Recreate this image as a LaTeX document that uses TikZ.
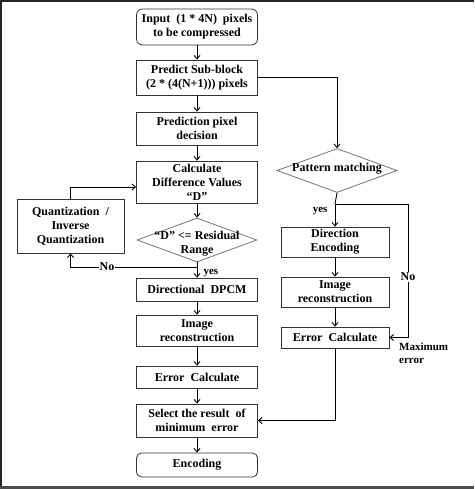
\documentclass[tikz,border=0pt]{standalone}
\usepackage{fontspec}
\setmainfont{Liberation Serif}
\usetikzlibrary{arrows.meta,shapes.geometric}
\begin{document}
\begin{tikzpicture}[x=1pt,y=-1pt,
  lbl/.style={font=\bfseries\fontsize{12}{14}\selectfont, align=center},
  box/.style={lbl, draw=black!80, line width=0.8pt, fill=white, inner sep=1pt},
  lbox/.style={box, minimum width=121pt},
  rbox/.style={box, minimum width=108pt},
  dia/.style={draw=black!55, shape=diamond, inner sep=0pt, line width=0.8pt, minimum width=120pt, minimum height=44pt},
  arr/.style={draw=black, line width=0.9pt, -{Straight Barb[length=3.5pt,width=6pt]}},
  ln/.style={draw=black, line width=0.9pt},
  small/.style={font=\bfseries\fontsize{11}{13}\selectfont, align=left}]
\useasboundingbox (0,0) rectangle (474,489);
% frame
\fill[black!85] (0,0) rectangle (474,2);
\fill[black!85] (0,0) rectangle (2,489);
\fill[black!70] (0,486) rectangle (474,489);
% left column
\node[lbox, minimum height=36pt, rounded corners=6pt] (in) at (197,27) {Input\ \ (1 * 4N)\ \ pixels\\to be compressed};
\node[lbox, minimum height=35pt] (pred) at (197,77.5) {Predict Sub-block\\(2 * (4(N+1))) pixels};
\node[lbox, minimum height=33pt] (dec) at (197,128.5) {Prediction pixel\\decision};
\node[lbox, minimum height=42pt] (calc) at (197,182) {Calculate\\Difference Values\\“D”};
\node[dia] (d1) at (197,240) {};
\node[lbl] (d1t) at (197,244) {“D” <= Residual\\Range};
\node[lbox, minimum height=23pt] (dpcm) at (197,289.5) {Directional\ \ DPCM};
\node[lbox, minimum height=31pt] (ir1) at (197,330.5) {Image\\reconstruction};
\node[lbox, minimum height=22pt] (ec1) at (197,377) {Error\ \ Calculate};
\node[lbox, minimum height=33pt] (sel) at (197,420.5) {Select the result\ \ of\\minimum\ \ error};
\node[lbox, minimum height=24pt, rounded corners=5pt] (enc) at (197,465) {Encoding};
\node[box, minimum width=107pt, minimum height=54pt] (q) at (70.5,226) {Quantization\ \ /\\Inverse\\Quantization};
% right column
\node[dia] (pm) at (337,170.5) {};
\node[lbl] (pmt) at (337,169) {Pattern matching};
\node[rbox, minimum height=30pt] (de) at (335,242) {Direction\\Encoding};
\node[rbox, minimum height=30pt] (ir2) at (335,292) {Image\\reconstruction};
\node[rbox, minimum height=21pt] (ec2) at (335,337.5) {Error\ \ Calculate};
% junctions
\coordinate (j1) at (197,267);
\coordinate (j2) at (335,204);
\coordinate (c1) at (408,204);
% left connectors
\draw[arr] (in) -- (pred);
\draw[arr] (pred) -- (dec);
\draw[arr] (dec) -- (calc);
\draw[arr] (calc) -- (d1);
\draw[ln] (d1.south) -- (j1);
\draw[arr] (j1) -- (dpcm);
\draw[arr] (j1) -| (q.south);
\draw[arr] (q.north) |- ([yshift=-5pt]calc.west);
\draw[arr] (dpcm) -- (ir1);
\draw[arr] (ir1) -- (ec1);
\draw[arr] (ec1) -- (sel);
\draw[arr] (sel) -- (enc);
% right connectors
\draw[arr] (pred.east) -| (pm.north);
\draw[ln] (pm.south) -- (j2);
\draw[arr] (j2) -- (de);
\draw[arr] (de) -- (ir2);
\draw[arr] (ir2) -- (ec2);
\draw[arr] (j2) -- (c1) |- (ec2.east);
\draw[arr] (ec2.south) |- (sel.east);
% labels
\node[lbl, fill=white, inner sep=1pt] (no1) at (107,267) {No};
\node[small, anchor=west] (yes1) at (200,273) {yes};
\node[small, anchor=east] (yes2) at (331,211) {yes};
\node[lbl, fill=white, inner sep=1.5pt] (no2) at (408,277) {No};
\node[small, anchor=north west, inner sep=0pt] (maxe) at (399,343) {Maximum\\error};
\end{tikzpicture}
\end{document}
